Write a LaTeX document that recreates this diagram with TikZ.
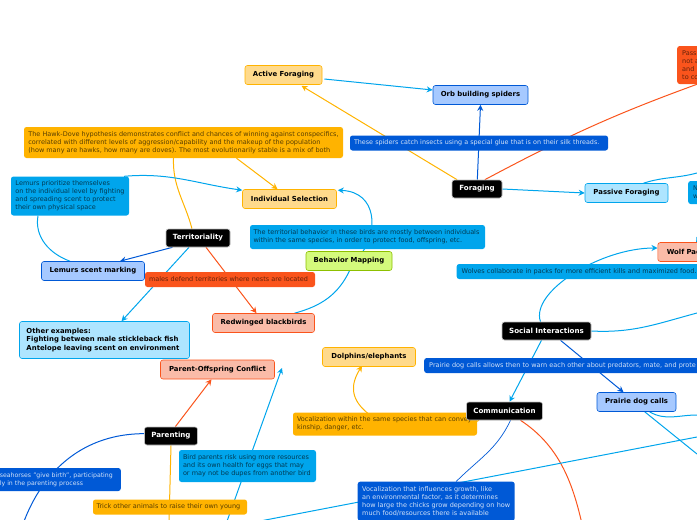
\documentclass[tikz,border=0pt]{standalone}
\usepackage{fontspec}
\setmainfont{DejaVu Sans}
\usetikzlibrary{arrows.meta,backgrounds}
\definecolor{mmorange}{HTML}{FFB300}
\definecolor{mmorangel}{HTML}{FFDA8C}
\definecolor{mmblue}{HTML}{0059D6}
\definecolor{mmbluel}{HTML}{A6C9FF}
\definecolor{mmcyan}{HTML}{00A5EC}
\definecolor{mmcyanl}{HTML}{AEE5FF}
\definecolor{mmred}{HTML}{FA541C}
\definecolor{mmredl}{HTML}{FABBA8}
\definecolor{mmgreen}{HTML}{8DC000}
\definecolor{mmgreenl}{HTML}{D4FA7C}
\begin{document}
\begin{tikzpicture}[x=1pt,y=-1pt,>={Stealth[length=6pt,width=6pt]}]
  \tikzset{
  mapnode/.style = {align=left, inner sep=0pt, rounded corners=2.5pt,
    font=\fontsize{6.5}{8}\selectfont},
  map_k/.style = {mapnode, fill=black, draw=black!25, text=white, semithick,
    font=\fontsize{7.1}{8}\selectfont\bfseries},% black topic
  map_box/.style = {mapnode, semithick, text=black,
    font=\fontsize{6.9}{8.6}\selectfont\bfseries},% pale subtopic
  map_o/.style = {map_box, fill=mmorangel, draw=mmorange},
  map_b/.style = {map_box, fill=mmbluel, draw=mmblue},
  map_c/.style = {map_box, fill=mmcyanl, draw=mmcyan},
  map_r/.style = {map_box, fill=mmredl, draw=mmred},
  map_g/.style = {map_box, fill=mmgreenl, draw=mmgreen},
  note_o/.style = {mapnode, fill=mmorange, text=black!65!mmorange},% filled note
  note_b/.style = {mapnode, fill=mmblue, text=white!82!mmblue},
  note_c/.style = {mapnode, fill=mmcyan, text=black!65!mmcyan},
  note_r/.style = {mapnode, fill=mmred, text=black!60!mmred},
  link_o/.style = {draw=mmorange, line width=1pt},
  link_b/.style = {draw=mmblue, line width=1pt},
  link_c/.style = {draw=mmcyan, line width=1pt},
  link_r/.style = {draw=mmred, line width=1pt}
}
\useasboundingbox (0,0) rectangle (697,520);

% filled notes
\node [note_o, minimum width=319pt, minimum height=31pt] (hawk) at (183.5,142.5)
  {The Hawk-Dove hypothesis demonstrates conflict and chances of winning against conspecifics,\\
   correlated with different levels of aggression/capability and the makeup of the population\\
   (how many are hawks, how many are doves). The most evolutionarily stable is a mix of both};
\node [note_c, minimum width=118pt, minimum height=39pt] (prioritize) at (70,196)
  {Lemurs prioritize themselves\\on the individual level by fighting\\and spreading scent to protect\\their own physical space};
\node [note_b, minimum width=258pt, minimum height=15pt, text width=250pt, font=\fontsize{6.4}{8}\selectfont] (glue) at (479,143)
  {These spiders catch insects using a special glue that is on their silk threads.};
\node [note_c, minimum width=235pt, minimum height=24pt, text width=228pt] (territorial) at (367.5,237)
  {The territorial behavior in these birds are mostly between individuals\\within the same species, in order to protect food, offspring, etc.};
\node [note_r, minimum width=170pt, minimum height=15pt, text width=162pt] (males) at (230,279.5)
  {males defend territories where nests are located};
\node [note_c, minimum width=300pt, minimum height=15pt, text width=290pt, anchor=west] (wolves) at (456.5,271.5)
  {Wolves collaborate in packs for more efficient kills and maximized food.};
\node [note_b, minimum width=300pt, minimum height=15pt, text width=290pt, anchor=west] (warn) at (424,365.5)
  {Prairie dog calls allows then to warn each other about predators, mate, and prote};
\node [note_o, minimum width=184pt, minimum height=23pt, text width=176pt] (within) at (385,424)
  {Vocalization within the same species that can convey\\kinship, danger, etc.};
\node [note_c, minimum width=137pt, minimum height=32pt, text width=129pt] (risk) at (247.5,466)
  {Bird parents risk using more resources\\and its own health for eggs that may\\or may not be dupes from another bird};
\node [note_b, minimum width=124pt, minimum height=23pt, text width=118pt, anchor=east, font=\fontsize{6.2}{8}\selectfont] (seahorses) at (121,479.5)
  {seahorses "give birth", participating\\ly in the parenting process};
\node [note_o, minimum width=154pt, minimum height=15pt, text width=147pt] (trick) at (170,507)
  {Trick other animals to raise their own young};
\node [note_b, minimum width=157pt, minimum height=39pt, text width=148pt, anchor=north west] (growth) at (357.5,481.5)
  {Vocalization that influences growth, like\\an environmental factor, as it determines\\how large the chicks grow depending on how\\much food/resources there is available};
\node [note_r, minimum width=40pt, minimum height=38pt, text width=30pt, anchor=west] (passnote) at (677,65)
  {Pass\\not a\\and\\to co};
\node [note_c, minimum width=30pt, minimum height=23pt, text width=20pt, anchor=west] (nnote) at (688,192.5)
  {N\\w};

% pale subtopics
\node [map_o, minimum width=77pt, minimum height=19pt] (active) at (283.5,75) {Active Foraging};
\node [map_b, minimum width=95pt, minimum height=19pt] (orb) at (480.5,95) {Orb building spiders};
\node [map_c, minimum width=83pt, minimum height=19pt] (passive) at (626.5,193) {Passive Foraging};
\node [map_o, minimum width=94pt, minimum height=19pt] (selection) at (289.5,199) {Individual Selection};
\node [map_b, minimum width=103pt, minimum height=19pt] (lemurs) at (93,271) {Lemurs scent marking};
\node [map_g, minimum width=86pt, minimum height=19pt] (mapping) at (349,261) {Behavior Mapping};
\node [map_r, minimum width=102pt, minimum height=19pt] (blackbirds) at (263.5,323) {Redwinged blackbirds};
\node [map_c, minimum width=170pt, minimum height=37pt, text width=156pt] (examples) at (104.5,340)
  {Other examples:\\Fighting between male stickleback fish\\Antelope leaving scent on environment};
\node [map_r, minimum width=114pt, minimum height=19pt] (conflict) at (217.5,369.5) {Parent-Offspring Conflict};
\node [map_o, minimum width=93pt, minimum height=19pt] (dolphins) at (369,357) {Dolphins/elephants};
\node [map_b, minimum width=79pt, minimum height=19pt] (prairie) at (636.5,402) {Prairie dog calls};
\node [map_r, minimum width=60pt, minimum height=19pt, anchor=west, text width=54pt] (wolf) at (657.5,252) {\hspace*{6pt}Wolf Pac};

% black topics
\node [map_k, minimum width=50pt, minimum height=18pt] (foraging) at (477,189) {Foraging};
\node [map_k, minimum width=64pt, minimum height=18pt] (territoriality) at (198,238) {Territoriality};
\node [map_k, minimum width=89pt, minimum height=18pt] (social) at (546.5,331) {Social Interactions};
\node [map_k, minimum width=76pt, minimum height=18pt] (communication) at (504.5,411) {Communication};
\node [map_k, minimum width=53pt, minimum height=18pt] (parenting) at (171,436) {Parenting};

% free ends at the page edge
\coordinate (passive_end) at (697,173);
\coordinate (wolf_end) at (697,237);
\coordinate (social_end) at (697,313);
\coordinate (calls_a_end) at (697,415);
\coordinate (calls_b_end) at (697,454);
\coordinate (long_a) at (697,437);
\coordinate (long_b) at (255,522);
\coordinate (conflict_end) at (282,368);
\coordinate (conflict_start) at (226,524);
\coordinate (comm_red_end) at (582,524);
\coordinate (parent_o_end) at (169,524);
\coordinate (parent_b_end) at (23,524);

\begin{scope}[on background layer]
\draw [link_o,->] (foraging.155) -- ([xshift=18pt,yshift=-1pt]active.south);
\draw [link_c,->] ([yshift=-4pt,xshift=2pt]active.east) -- ([yshift=5pt]orb.west);
\draw [link_b,->] (foraging.88) -- (orb.south);
\draw [link_r] (foraging.50) to[out=28,in=200] (passnote.south);
\draw [link_c,->] (foraging.east) -- (passive.west);
\draw [link_c] (passive.30) to[out=18,in=195] (passive_end);
\draw [link_o,->] ([xshift=53pt]hawk.south) -- ([xshift=-12pt]selection.north);
\draw [link_o] ([xshift=-10pt]hawk.south) to[out=-92,in=105] ([xshift=-6pt]territoriality.north);
\draw [link_c,->] (prioritize.20) to[out=5,in=172] ([yshift=-1pt]selection.north west);
\draw [link_c] ([xshift=-32pt]prioritize.south) to[out=-100,in=160] ([xshift=-23pt]lemurs.north);
\draw [link_c,->] ([xshift=14pt]mapping.north) .. controls (377,232) and (378,192) .. ([yshift=-1pt,xshift=1pt]selection.north east);
\draw [link_b,->] (territoriality.200) -- (lemurs.20);
\draw [link_c,->] ([xshift=-9pt]territoriality.south) -- ([xshift=17pt]examples.north);
\draw [link_r,->] ([xshift=8pt]territoriality.south) -- ([xshift=-7pt]blackbirds.north);
\draw [link_c] ([xshift=31pt]blackbirds.north) to[out=15,in=-115] ([xshift=1pt,yshift=1pt]mapping.south);
\draw [link_c,->] ([xshift=-6pt]social.north) .. controls (530,292) and (600,248) .. ([yshift=4pt]wolf.west);
\draw [link_c] (wolf.48) -- (wolf_end);
\draw [link_c] (social.east) to[out=-3,in=195] (social_end);
\draw [link_c,->] ([xshift=-5pt]social.south) -- ([xshift=5pt]communication.north);
\draw [link_b,->] ([xshift=14pt]social.south) -- ([xshift=-13pt]prairie.north);
\draw [link_o,->] (communication.200) .. controls (440,440) and (395,430) .. (370,415) .. controls (350,400) and (350,385) .. ([yshift=1pt,xshift=-7pt]dolphins.south);
\draw [link_b,line width=.7pt] ([xshift=6pt]communication.south) to[out=-115,in=45] ([xshift=20pt]growth.north);
\draw [link_r] ([xshift=16pt]communication.south) .. controls (558,445) and (572,480) .. (comm_red_end);
\draw [link_c] ([xshift=13pt]prairie.south) to[out=-30,in=180] (calls_a_end);
\draw [link_c] (prairie.-50) -- (calls_b_end);
\draw [link_c] (long_a) -- (long_b);
\draw [link_c,->] (conflict_start) -- (conflict_end);
\draw [link_r,->] (parenting.65) -- ([xshift=-6pt]conflict.south);
\draw [link_b] (parenting.175) to[out=180,in=70] (parent_b_end);
\draw [link_o] (parenting.south) -- (parent_o_end);
\end{scope}
\end{tikzpicture}
\end{document}
